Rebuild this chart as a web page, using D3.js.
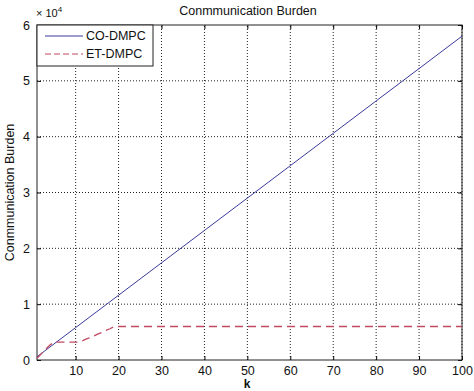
<!DOCTYPE html>
<html>
<head>
<meta charset="utf-8">
<script src="https://cdn.jsdelivr.net/npm/d3@7"></script>
<style>
  body { margin: 0; background: #fff; }
  text { font-family: "Liberation Sans", Arial, sans-serif; fill: #111; }
</style>
</head>
<body>
<svg id="chart" width="474" height="391"></svg>
<script>
"use strict";

// Data (values in raw units, axis shows x 10^4).
var coK = [1, 10, 20, 30, 40, 50, 60, 70, 80, 90, 100];
var coVals = [580, 5800, 11600, 17400, 23200, 29000, 34800, 40600, 46400, 52200, 58000];

var etK = [1, 2, 3, 4, 5, 11, 12, 13, 14, 15, 16, 17, 18, 19, 100];
var etVals = [300, 1100, 1900, 2700, 3200, 3200, 3600, 3900, 4200, 4600, 4900, 5300, 5600, 6000, 6000];

var xTicks = [10, 20, 30, 40, 50, 60, 70, 80, 90, 100];
var yTicks = [0, 1, 2, 3, 4, 5, 6];
var seriesNames = ["CO-DMPC", "ET-DMPC"];

var margin = {left: 37, right: 12, top: 25, bottom: 31};
var width = 474, height = 391;

var svg = d3.select("#chart");

var x = d3.scaleLinear().domain([1, 100]).range([margin.left, width - margin.right]);
var y = d3.scaleLinear().domain([0, 60000]).range([height - margin.bottom, margin.top]);

// Grid lines.
var grid = svg.append("g").attr("class", "grid");
grid.selectAll(".gx")
  .data(xTicks)
  .enter().append("line")
  .attr("x1", d => x(d)).attr("x2", d => x(d))
  .attr("y1", y(0)).attr("y2", y(60000))
  .attr("stroke", "#222").attr("stroke-width", 1).attr("stroke-dasharray", "1,2");
grid.selectAll(".gy")
  .data(yTicks.slice(1, -1))
  .enter().append("line")
  .attr("x1", x(1)).attr("x2", x(100))
  .attr("y1", d => y(d * 1e4)).attr("y2", d => y(d * 1e4))
  .attr("stroke", "#222").attr("stroke-width", 1).attr("stroke-dasharray", "1,2");

// Axes.
var xAxis = d3.axisBottom(x).tickValues(xTicks).tickSize(-4).tickPadding(6);
var yAxis = d3.axisLeft(y).tickValues(yTicks.map(d => d * 1e4)).tickFormat(d => d / 1e4).tickSize(-4).tickPadding(7);

svg.append("g")
  .attr("transform", "translate(0," + y(0) + ")")
  .call(xAxis)
  .call(g => g.select(".domain").remove())
  .selectAll("text").style("font-size", "12.5px");
svg.append("g")
  .attr("transform", "translate(" + x(1) + ",0)")
  .call(yAxis)
  .call(g => g.select(".domain").remove())
  .selectAll("text").style("font-size", "12.5px");

// Ticks on top/right edges too.
svg.append("g")
  .attr("transform", "translate(0," + y(60000) + ")")
  .call(d3.axisTop(x).tickValues(xTicks).tickSize(-4).tickFormat(""))
  .call(g => g.select(".domain").remove());
svg.append("g")
  .attr("transform", "translate(" + x(100) + ",0)")
  .call(d3.axisRight(y).tickValues(yTicks.map(d => d * 1e4)).tickSize(-4).tickFormat(""))
  .call(g => g.select(".domain").remove());

// Frame.
svg.append("rect")
  .attr("x", x(1)).attr("y", y(60000))
  .attr("width", x(100) - x(1)).attr("height", y(0) - y(60000))
  .attr("fill", "none").attr("stroke", "#222").attr("stroke-width", 1);

// Series.
var line = d3.line().x(d => x(d[0])).y(d => y(d[1]));
svg.append("path")
  .datum(d3.zip(coK, coVals))
  .attr("d", line)
  .attr("fill", "none").attr("stroke", "#3a3a9a").attr("stroke-width", 1);
svg.append("path")
  .datum(d3.zip(etK, etVals))
  .attr("d", line)
  .attr("fill", "none").attr("stroke", "#c04a60").attr("stroke-width", 1.3)
  .attr("stroke-dasharray", "8,5");

// Legend.
var lg = svg.append("g");
lg.append("rect")
  .attr("x", x(1)).attr("y", y(60000))
  .attr("width", 116).attr("height", 41)
  .attr("fill", "#fff").attr("stroke", "#222").attr("stroke-width", 1);
var styles = [{c: "#3a3a9a", dash: null}, {c: "#c04a60", dash: "6,3"}];
seriesNames.forEach(function(name, i) {
  var yy = y(60000) + 11 + i * 18;
  lg.append("line")
    .attr("x1", x(1) + 8).attr("x2", x(1) + 46)
    .attr("y1", yy).attr("y2", yy)
    .attr("stroke", styles[i].c).attr("stroke-width", 1.2)
    .attr("stroke-dasharray", styles[i].dash);
  lg.append("text")
    .attr("x", x(1) + 49).attr("y", yy + 4)
    .style("font-size", "12.5px")
    .text(name);
});

// Titles and labels.
svg.append("text")
  .attr("x", 248).attr("y", 15)
  .attr("text-anchor", "middle")
  .style("font-size", "12.5px")
  .text("Conmmunication Burden");
svg.append("text")
  .attr("x", 247).attr("y", 388)
  .attr("text-anchor", "middle")
  .style("font-size", "12px")
  .style("font-weight", "bold")
  .text("k");
svg.append("text")
  .attr("transform", "translate(14," + ((y(0) + y(60000)) / 2) + ") rotate(-90)")
  .attr("text-anchor", "middle")
  .style("font-size", "12.5px")
  .text("Conmmunication Burden");

var exp = svg.append("text")
  .attr("x", 36).attr("y", 17)
  .style("font-size", "11px");
exp.append("tspan").text("\u00d7 10");
exp.append("tspan").attr("dy", -5).style("font-size", "8px").text("4");
</script>
</body>
</html>
